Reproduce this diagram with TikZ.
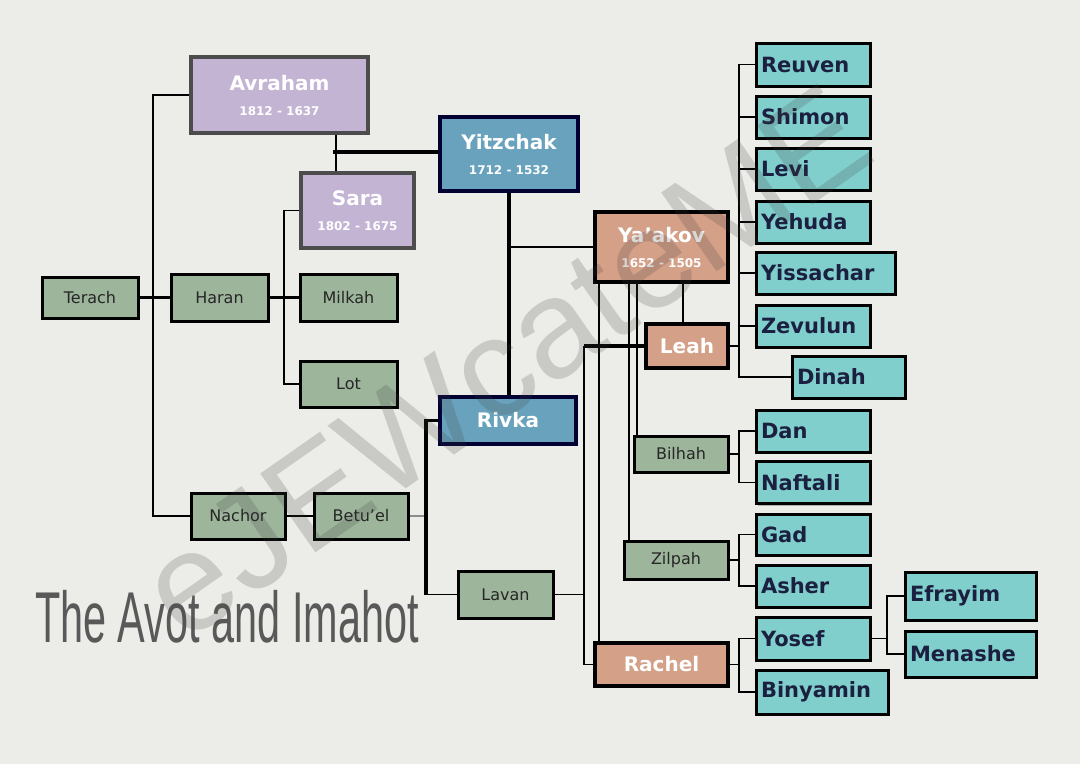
\documentclass[tikz,border=0pt]{standalone}
\usepackage{fontspec}
\setmainfont{DejaVu Sans}
\newfontfamily\titlefont{Liberation Sans}
\usepackage{tikz}
\usetikzlibrary{positioning, shadows}

\definecolor{bgcol}{HTML}{ECECE8}
\definecolor{lavcol}{HTML}{C4B4D4}
\definecolor{bluecol}{HTML}{68A2BC}
\definecolor{salmoncol}{HTML}{D4A088}
\definecolor{sagecol}{HTML}{9DB59B}
\definecolor{tealcol}{HTML}{80CFCC}
\definecolor{namecol}{HTML}{1C2040}

\tikzset{
  boxshadow/.style={drop shadow={shadow xshift=2pt, shadow yshift=-2pt, fill=black!45, opacity=0.6}},
  elder/.style={draw=black!70, line width=3.5pt, fill=lavcol, text=white, align=center,
    inner sep=0pt, font=\bfseries\fontsize{20}{24}\selectfont, boxshadow},
  sage/.style={draw=black, line width=3pt, fill=sagecol, text=black!85, inner sep=0pt,
    font=\fontsize{16}{18}\selectfont, boxshadow},
  kid/.style={draw=black, line width=3pt, fill=tealcol, text=namecol, inner sep=0pt,
    font=\bfseries\fontsize{21}{24}\selectfont, boxshadow},
  link/.style={line width=1.8pt},
  thicklink/.style={line width=3.2pt},
}
\newcommand{\yrs}[1]{\\[1pt]{\fontsize{12}{14}\selectfont #1}}
\newcommand{\kidname}[2]{\makebox[#1pt][l]{\hspace{5pt}\raisebox{-3pt}{#2}}}

\begin{document}
\begin{tikzpicture}[x=1pt, y=-1pt]
  \useasboundingbox (0,0) rectangle (1080,764);
  \fill[bgcol] (0,0) rectangle (1080,764);

  % Avot and Imahot
  \node[elder, minimum width=177, minimum height=76] (avraham) at (279.5,95) {Avraham\yrs{1812 - 1637}};
  \node[elder, minimum width=113, minimum height=75] (sara) at (357.5,210.5) {Sara\yrs{1802 - 1675}};
  \node[elder, fill=bluecol, draw=black!80!blue, minimum width=138, minimum height=74] (yitzchak) at (509,154) {Yitzchak\yrs{1712 - 1532}};
  \node[elder, fill=bluecol, draw=black!80!blue, minimum width=136, minimum height=47] (rivka) at (508,420.5) {Rivka};
  \node[elder, fill=salmoncol, draw=black, minimum width=133, minimum height=70] (yaakov) at (661.5,247) {Ya'akov\yrs{1652 - 1505}};
  \node[elder, fill=salmoncol, draw=black, minimum width=82, minimum height=44] (leah) at (687,346) {Leah};
  \node[elder, fill=salmoncol, draw=black, minimum width=133, minimum height=43] (rachel) at (661.5,664.5) {Rachel};

  % Terach and his family
  \node[sage, minimum width=96, minimum height=41] (terach) at (90,297.5) {Terach};
  \node[sage, minimum width=97, minimum height=47] (haran) at (219.5,297.5) {Haran};
  \node[sage, minimum width=97, minimum height=47] (milkah) at (348.5,297.5) {Milkah};
  \node[sage, minimum width=97, minimum height=46] (lot) at (348.5,384) {Lot};
  \node[sage, minimum width=94, minimum height=46] (nachor) at (238,516) {Nachor};
  \node[sage, minimum width=94, minimum height=46] (betuel) at (361,516) {Betu'el};
  \node[sage, minimum width=95, minimum height=47] (lavan) at (505.5,594.5) {Lavan};
  \node[sage, minimum width=94, minimum height=36] (bilhah) at (681,454) {Bilhah};
  \node[sage, minimum width=104, minimum height=38] (zilpah) at (676,560) {Zilpah};

  % Shevatim
  \node[kid, minimum width=114, minimum height=43] (reuven) at (813,64.5) {\kidname{114}{Reuven}};
  \node[kid, minimum width=114, minimum height=42] (shimon) at (813,117) {\kidname{114}{Shimon}};
  \node[kid, minimum width=114, minimum height=42] (levi) at (813,169) {\kidname{114}{Levi}};
  \node[kid, minimum width=114, minimum height=42] (yehuda) at (813,222) {\kidname{114}{Yehuda}};
  \node[kid, minimum width=139, minimum height=42] (yissachar) at (825.5,273) {\kidname{139}{Yissachar}};
  \node[kid, minimum width=114, minimum height=42] (zevulun) at (813,326) {\kidname{114}{Zevulun}};
  \node[kid, minimum width=113, minimum height=42] (dinah) at (848.5,377) {\kidname{113}{Dinah}};
  \node[kid, minimum width=114, minimum height=42] (dan) at (813,431) {\kidname{114}{Dan}};
  \node[kid, minimum width=114, minimum height=42] (naftali) at (813,482.5) {\kidname{114}{Naftali}};
  \node[kid, minimum width=114, minimum height=41] (gad) at (813,534.5) {\kidname{114}{Gad}};
  \node[kid, minimum width=114, minimum height=42] (asher) at (813,586) {\kidname{114}{Asher}};
  \node[kid, minimum width=114, minimum height=43] (yosef) at (813,638.5) {\kidname{114}{Yosef}};
  \node[kid, minimum width=132, minimum height=44] (binyamin) at (822,692) {\kidname{132}{Binyamin}};
  \node[kid, minimum width=131, minimum height=48] (efrayim) at (970.5,596) {\kidname{131}{Efrayim}};
  \node[kid, minimum width=131, minimum height=46] (menashe) at (970.5,654) {\kidname{131}{Menashe}};

  % bus lines
  \coordinate (terachbus) at (153,0);
  \coordinate (haranbus) at (284,0);
  \coordinate (avsara) at (336,152);
  \coordinate (betuelbus) at (426,0);
  \coordinate (lavanbus) at (584,0);
  \coordinate (toRachel) at (599,0);
  \coordinate (toZilpah) at (629,0);
  \coordinate (toBilhah) at (637,0);
  \coordinate (toLeah) at (683,0);
  \coordinate (sonsbus) at (739,0);
  \coordinate (yosefbus) at (887,0);

  \draw[link] (avraham.west) -| (terachbus |- nachor.west) -- (nachor.west);
  \draw[thicklink] (terach.east) -- (haran.west);
  \draw[thicklink] (haran.east) -- (milkah.west);
  \draw[link] (sara.west) -| (haranbus |- lot.west) -- (lot.west);
  \draw[link] (avsara |- avraham.south) -- (avsara |- sara.north);
  \draw[thicklink] ([xshift=-3pt]avsara) -- (avsara -| yitzchak.west);
  \draw[thicklink] (yitzchak.south) -- (yitzchak.south |- rivka.north);
  \draw[link] (yitzchak.south |- yaakov.west) -- (yaakov.west);
  \draw[link] (nachor.east) -- (betuel.west);
  \draw[link, black!45] (betuel.east) -- (betuelbus |- betuel.east);
  \draw[thicklink] (rivka.west) -| (betuelbus |- lavan.west);
  \draw[link] (betuelbus |- lavan.west) -- (lavan.west);
  \draw[link] (lavan.east) -- (lavanbus |- lavan.east);
  \draw[thicklink] (leah.west) -- (lavanbus |- leah.west);
  \draw[link] (lavanbus |- leah.west) -- (lavanbus |- rachel.west) -- (rachel.west);

  % Ya'akov and the wives
  \draw[link] (toRachel |- yaakov.south) -- (toRachel |- rachel.north);
  \draw[link] (toZilpah |- yaakov.south) -- (toZilpah |- zilpah.north);
  \draw[link] (toBilhah |- yaakov.south) -- (toBilhah |- bilhah.north);
  \draw[link] (toLeah |- yaakov.south) -- (toLeah |- leah.north);

  % children
  \draw[link] (leah.east) -- (sonsbus |- leah.east);
  \draw[link] (reuven.west) -| (sonsbus |- dinah.west) -- (dinah.west);
  \foreach \son in {shimon, levi, yehuda, yissachar, zevulun}
    \draw[link] (sonsbus |- \son.west) -- (\son.west);
  \draw[link] (bilhah.east) -- (sonsbus |- bilhah.east);
  \draw[link] (dan.west) -| (sonsbus |- naftali.west) -- (naftali.west);
  \draw[link] (zilpah.east) -- (sonsbus |- zilpah.east);
  \draw[link] (gad.west) -| (sonsbus |- asher.west) -- (asher.west);
  \draw[link] (rachel.east) -- (sonsbus |- rachel.east);
  \draw[link] (yosef.west) -| (sonsbus |- binyamin.west) -- (binyamin.west);
  \draw[link] (yosef.east) -- (yosefbus |- yosef.east);
  \draw[link] (efrayim.west) -| (yosefbus |- menashe.west) -- (menashe.west);

  % title
  \node[anchor=base west, inner sep=0pt, xscale=0.575, text=black!65,
    font=\titlefont\fontsize{72}{72}\selectfont] (title) at (35,642) {The Avot and Imahot};

  % watermark
  \node[rotate=35, opacity=0.2, text=black!75, inner sep=0pt,
    font=\titlefont\fontsize{140}{140}\selectfont] (mark) at (505,362) {eJEWcateME};
\end{tikzpicture}
\end{document}
